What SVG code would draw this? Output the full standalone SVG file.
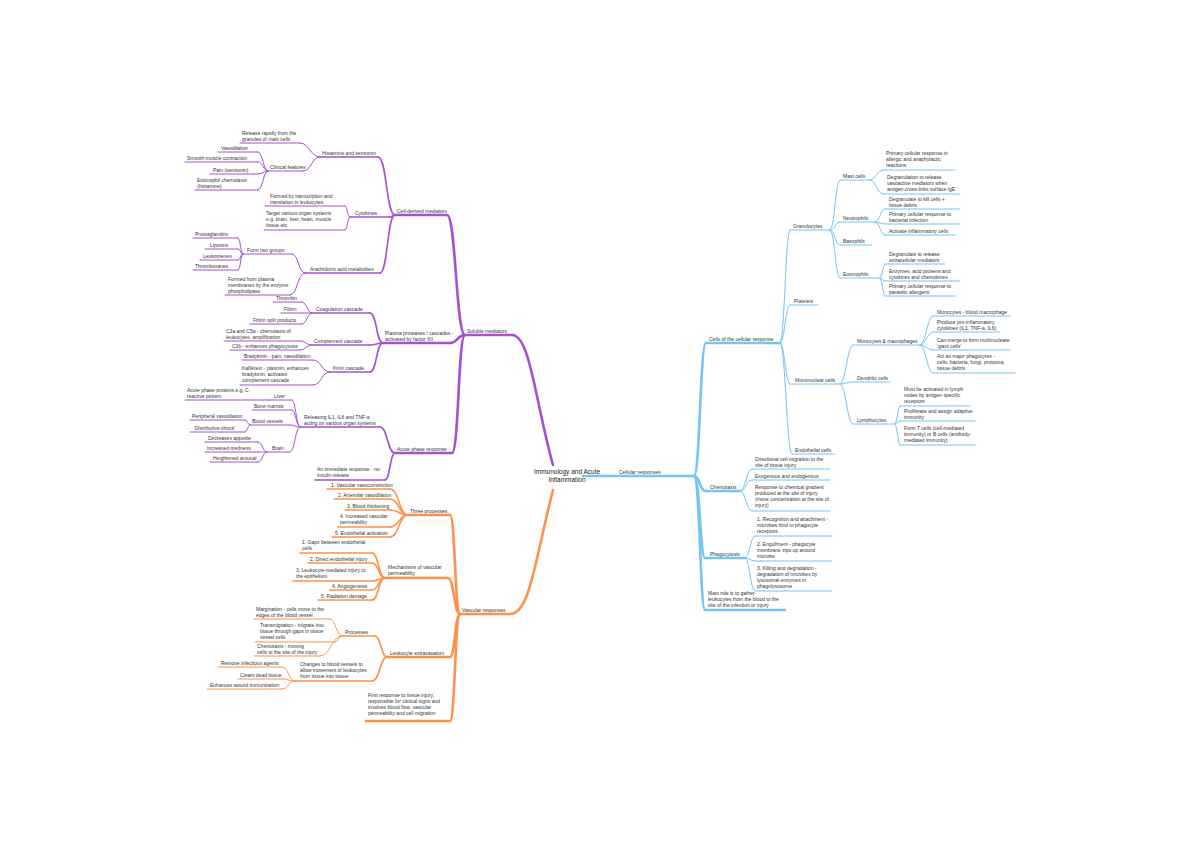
<svg xmlns="http://www.w3.org/2000/svg" width="1200" height="849" viewBox="0 0 1200 849">
<style>
text{font-family:"Liberation Sans","DejaVu Sans",sans-serif;font-size:5px;fill:#333}
.c{text-anchor:middle;font-size:6.5px;fill:#222}
.p{fill:none;stroke:#a64fd0;stroke-linecap:round}
.o{fill:none;stroke:#ff9148;stroke-linecap:round}
.b{fill:none;stroke:#74c4f4;stroke-linecap:round}
.w3{stroke-width:2.6}.w2{stroke-width:1.6}.w1{stroke-width:1}
</style>
<rect width="1200" height="849" fill="#fff"/>
<g id="connectors">
<!-- purple -->
<path class="p w3" d="M553,465 C535,400 530,335 512,335"/>
<path class="p w3" d="M465,335 C456,335 456,215 447,215"/>
<path class="p w3" d="M465,335 C457,335 458,343 450,343"/>
<path class="p w3" d="M465,335 C458,335 459,453 452,453"/>
<path class="p w2" d="M395,215 C386,215 387,157 378,157"/>
<path class="p w2" d="M395,215 C392,215 393,217 390,217"/>
<path class="p w2" d="M395,215 C387,215 388,273 380,273"/>
<path class="p w1" d="M320,157 C310,157 310,143 300,143"/>
<path class="p w1" d="M320,157 C311,157 312,171 303,171"/>
<path class="p w1" d="M268,171 C263,171 263,152 258,152"/>
<path class="p w1" d="M268,171 C263,171 263,162 258,162"/>
<path class="p w1" d="M268,171 C263,171 263,174 258,174"/>
<path class="p w1" d="M268,171 C263,171 263,190 258,190"/>
<path class="p w1" d="M350,217 C347,217 348,206 345,206"/>
<path class="p w1" d="M350,217 C347,217 348,230 345,230"/>
<path class="p w1" d="M305,273 C298,273 299,254 292,254"/>
<path class="p w1" d="M305,273 C297,273 298,295 290,295"/>
<path class="p w1" d="M243,254 C240,254 241,238 238,238"/>
<path class="p w1" d="M243,254 C240,254 241,249 238,249"/>
<path class="p w1" d="M243,254 C240,254 241,260 238,260"/>
<path class="p w1" d="M243,254 C240,254 241,270 238,270"/>
<path class="p w2" d="M383,343 C376,343 377,313 370,313"/>
<path class="p w2" d="M383,343 C376,343 377,345 370,345"/>
<path class="p w2" d="M383,343 C376,343 377,372 370,372"/>
<path class="p w1" d="M312,313 C307,313 307,302 302,302"/>
<path class="p w1" d="M312,313 C307,313 307,313 302,313"/>
<path class="p w1" d="M312,313 C307,313 307,324 302,324"/>
<path class="p w1" d="M312,345 C306,345 306,341 300,341"/>
<path class="p w1" d="M312,345 C306,345 306,350 300,350"/>
<path class="p w1" d="M330,372 C321,372 322,360 313,360"/>
<path class="p w1" d="M330,372 C321,372 322,385 313,385"/>
<path class="p w2" d="M395,453 C387,453 388,427 380,427"/>
<path class="p w2" d="M395,453 C390,453 390,480 385,480"/>
<path class="p w1" d="M300,427 C296,427 296,400 292,400"/>
<path class="p w1" d="M300,427 C296,427 296,410 292,410"/>
<path class="p w1" d="M300,427 C295,427 295,425 290,425"/>
<path class="p w1" d="M300,427 C295,427 295,452 290,452"/>
<path class="p w1" d="M270,400 C269,400 269,400 268,400"/>
<path class="p w1" d="M250,425 C248,425 247,420 245,420"/>
<path class="p w1" d="M250,425 C248,425 247,432 245,432"/>
<path class="p w1" d="M267,452 C262,452 263,442 258,442"/>
<path class="p w1" d="M267,452 C262,452 263,452 258,452"/>
<path class="p w1" d="M267,452 C262,452 263,462 258,462"/>
<!-- orange -->
<path class="o w3" d="M553,490 C535,560 530,614 510,614"/>
<path class="o w3" d="M460,614 C455,614 455,515 450,515"/>
<path class="o w3" d="M460,614 C454,614 454,578 448,578"/>
<path class="o w3" d="M460,614 C455,614 455,657 450,657"/>
<path class="o w3" d="M460,614 C455,614 455,721 450,721"/>
<path class="o w2" d="M408,515 C399,515 399,489 390,489"/>
<path class="o w2" d="M408,515 C399,515 399,499 390,499"/>
<path class="o w2" d="M408,515 C399,515 399,510 390,510"/>
<path class="o w2" d="M408,515 C399,515 399,527 390,527"/>
<path class="o w2" d="M408,515 C399,515 399,537 390,537"/>
<path class="o w2" d="M385,578 C378,578 379,553 372,553"/>
<path class="o w2" d="M385,578 C378,578 379,563 372,563"/>
<path class="o w2" d="M385,578 C378,578 379,581 372,581"/>
<path class="o w2" d="M385,578 C378,578 379,590 372,590"/>
<path class="o w2" d="M385,578 C378,578 379,600 372,600"/>
<path class="o w2" d="M387,657 C381,657 381,636 375,636"/>
<path class="o w2" d="M387,657 C380,657 380,681 372,681"/>
<path class="o w1" d="M342,636 C336,636 336,619 330,619"/>
<path class="o w1" d="M342,636 C338,636 339,642 335,642"/>
<path class="o w1" d="M342,636 C331,636 331,656 320,656"/>
<path class="o w1" d="M295,681 C288,681 289,667 282,667"/>
<path class="o w1" d="M295,681 C288,681 289,679 282,679"/>
<path class="o w1" d="M295,681 C288,681 289,689 282,689"/>
<!-- blue -->
<path class="b w3" d="M583,476 L602,476"/>
<path class="b w3" d="M694,476 C700,476 700,343 706,343"/>
<path class="b w3" d="M694,476 C700,476 700,491 705,491"/>
<path class="b w3" d="M694,476 C700,476 700,558 705,558"/>
<path class="b w3" d="M694,476 C700,476 700,610 705,610"/>
<path class="b w1" d="M780,343 C785,343 785,230 790,230"/>
<path class="b w1" d="M780,343 C785,343 785,305 790,305"/>
<path class="b w1" d="M780,343 C785,343 785,384 790,384"/>
<path class="b w1" d="M780,343 C786,343 786,454 792,454"/>
<path class="b w1" d="M830,230 C835,230 835,180 840,180"/>
<path class="b w1" d="M830,230 C835,230 835,222 840,222"/>
<path class="b w1" d="M830,230 C835,230 835,245 840,245"/>
<path class="b w1" d="M830,230 C835,230 835,278 840,278"/>
<path class="b w1" d="M870,180 C876,180 877,170 883,170"/>
<path class="b w1" d="M870,180 C876,180 877,194 883,194"/>
<path class="b w1" d="M875,222 C880,222 880,209 885,209"/>
<path class="b w1" d="M875,222 C880,222 880,224 885,224"/>
<path class="b w1" d="M875,222 C880,222 880,235 885,235"/>
<path class="b w1" d="M880,278 C882,278 883,264 885,264"/>
<path class="b w1" d="M880,278 C882,278 883,281 885,281"/>
<path class="b w1" d="M880,278 C882,278 883,296 885,296"/>
<path class="b w1" d="M840,384 C846,384 847,345 853,345"/>
<path class="b w1" d="M840,384 C846,384 847,382 853,382"/>
<path class="b w1" d="M840,384 C846,384 847,424 853,424"/>
<path class="b w1" d="M920,345 C926,345 927,316 933,316"/>
<path class="b w1" d="M920,345 C926,345 927,332 933,332"/>
<path class="b w1" d="M920,345 C926,345 927,350 933,350"/>
<path class="b w1" d="M920,345 C926,345 927,373 933,373"/>
<path class="b w1" d="M895,424 C897,424 898,406 900,406"/>
<path class="b w1" d="M895,424 C897,424 898,421 900,421"/>
<path class="b w1" d="M895,424 C897,424 898,445 900,445"/>
<path class="b w1" d="M740,491 C746,491 746,469 752,469"/>
<path class="b w1" d="M740,491 C746,491 746,480 752,480"/>
<path class="b w1" d="M740,491 C746,491 746,511 752,511"/>
<path class="b w1" d="M745,558 C750,558 750,536 755,536"/>
<path class="b w1" d="M745,558 C750,558 750,561 755,561"/>
<path class="b w1" d="M745,558 C750,558 750,591 755,591"/>
</g>
<g id="center"><text class="c" x="567" y="474">Immunology and Acute</text><text class="c" x="567" y="482">Inflammation</text></g>
<g id="soluble"><text x="467" y="333">Soluble mediators</text><path class="p w3" d="M465,335 H512"/></g>
<g id="cellderived"><text x="397" y="213">Cell-derived mediators</text><path class="p w3" d="M395,215 H447"/></g>
<g id="histamine"><text x="322" y="155">Histamine and serotonin</text><path class="p w2" d="M320,157 H378"/></g>
<g id="hist1"><text x="242" y="135">Release rapidly from the</text><text x="242" y="141">granules of mast cells</text><path class="p w1" d="M240,143 H300"/></g>
<g id="clinical"><text x="270" y="169">Clinical features</text><path class="p w1" d="M268,171 H303"/></g>
<g id="vaso"><text x="221" y="150">Vasodilation</text><path class="p w1" d="M218,152 H258"/></g>
<g id="smooth"><text x="187" y="160">Smooth muscle contraction</text><path class="p w1" d="M185,162 H258"/></g>
<g id="pain"><text x="213" y="172">Pain (serotonin)</text><path class="p w1" d="M210,174 H258"/></g>
<g id="eosin"><text x="197" y="182">Eosinophil chemotaxis</text><text x="197" y="188">(histamine)</text><path class="p w1" d="M195,190 H258"/></g>
<g id="cytokines"><text x="355" y="215">Cytokines</text><path class="p w2" d="M350,217 H390"/></g>
<g id="cyt1"><text x="270" y="198">Formed by transcription and</text><text x="270" y="204">translation in leukocytes</text><path class="p w1" d="M265,206 H345"/></g>
<g id="cyt2"><text x="266" y="215">Target various organ systems</text><text x="266" y="221">e.g. brain, liver, heart, muscle</text><text x="266" y="227">tissue etc.</text><path class="p w1" d="M264,230 H345"/></g>
<g id="arach"><text x="310" y="271">Arachidonic acid metabolites</text><path class="p w2" d="M305,273 H380"/></g>
<g id="enzymes"><text x="247" y="252">Form two groups</text><path class="p w1" d="M243,254 H292"/></g>
<g id="prosta"><text x="195" y="236">Prostaglandins</text><path class="p w1" d="M193,238 H238"/></g>
<g id="lipox"><text x="210" y="247">Lipoxins</text><path class="p w1" d="M205,249 H238"/></g>
<g id="leukot"><text x="203" y="258">Leukotrienes</text><path class="p w1" d="M200,260 H238"/></g>
<g id="thrombox"><text x="195" y="268">Thromboxanes</text><path class="p w1" d="M193,270 H238"/></g>
<g id="arach2"><text x="228" y="281">Formed from plasma</text><text x="228" y="287">membranes by the enzyme</text><text x="228" y="293">phospholipase</text><path class="p w1" d="M225,295 H290"/></g>
<g id="plasma"><text x="385" y="335">Plasma proteases / cascades -</text><text x="385" y="341">activated by factor XII</text><path class="p w3" d="M383,343 H450"/></g>
<g id="coag"><text x="316" y="311">Coagulation cascade</text><path class="p w2" d="M312,313 H370"/></g>
<g id="thrombin"><text x="276" y="300">Thrombin</text><path class="p w1" d="M273,302 H302"/></g>
<g id="fibrin"><text x="284" y="311">Fibrin</text><path class="p w1" d="M281,313 H302"/></g>
<g id="fsp"><text x="253" y="322">Fibrin split products</text><path class="p w1" d="M250,324 H302"/></g>
<g id="compl"><text x="314" y="343">Complement cascade</text><path class="p w2" d="M312,345 H370"/></g>
<g id="c3a"><text x="226" y="333">C3a and C5a - chemotaxis of</text><text x="226" y="339">leukocytes, amplification</text><path class="p w1" d="M224,341 H300"/></g>
<g id="c3b"><text x="232" y="348">C3b - enhances phagocytosis</text><path class="p w1" d="M230,350 H300"/></g>
<g id="kinin"><text x="333" y="370">Kinin cascade</text><path class="p w2" d="M330,372 H370"/></g>
<g id="brady"><text x="244" y="358">Bradykinin - pain, vasodilation</text><path class="p w1" d="M242,360 H313"/></g>
<g id="kall"><text x="242" y="370">Kallikrein - plasmin, enhances</text><text x="242" y="376">bradykinin, activates</text><text x="242" y="382">complement cascade</text><path class="p w1" d="M240,385 H313"/></g>
<g id="acute"><text x="397" y="451">Acute phase response</text><path class="p w3" d="M395,453 H452"/></g>
<g id="il"><text x="304" y="419">Releasing IL1, IL6 and TNF-a</text><text x="304" y="425">acting on various organ systems</text><path class="p w2" d="M300,427 H380"/></g>
<g id="liver"><text x="274" y="398">Liver</text><path class="p w1" d="M270,400 H292"/></g>
<g id="crp"><text x="187" y="392">Acute phase proteins e.g. C-</text><text x="187" y="398">reactive protein</text><path class="p w1" d="M185,400 H268"/></g>
<g id="marrow"><text x="254" y="408">Bone marrow</text><path class="p w1" d="M252,410 H292"/></g>
<g id="bv"><text x="252" y="423">Blood vessels</text><path class="p w1" d="M250,425 H290"/></g>
<g id="pv"><text x="192" y="418">Peripheral vasodilation</text><path class="p w1" d="M190,420 H245"/></g>
<g id="shock"><text x="194" y="430">'Distributive shock'</text><path class="p w1" d="M190,432 H245"/></g>
<g id="brain"><text x="272" y="450">Brain</text><path class="p w1" d="M267,452 H290"/></g>
<g id="appetite"><text x="208" y="440">Decreases appetite</text><path class="p w1" d="M205,442 H258"/></g>
<g id="tired"><text x="207" y="450">Increased tiredness</text><path class="p w1" d="M205,452 H258"/></g>
<g id="arousal"><text x="213" y="460">Heightened arousal</text><path class="p w1" d="M210,462 H258"/></g>
<g id="immediate"><text x="317" y="471">An immediate response - no</text><text x="317" y="477">insulin release</text><path class="p w2" d="M315,480 H385"/></g>
<g id="vascular"><text x="462" y="612">Vascular responses</text><path class="o w3" d="M460,614 H510"/></g>
<g id="three"><text x="410" y="513">Three processes</text><path class="o w3" d="M408,515 H450"/></g>
<g id="v1"><text x="331" y="487">1. Vascular vasoconstriction</text><path class="o w2" d="M327,489 H390"/></g>
<g id="v2"><text x="338" y="497">2. Arteriolar vasodilation</text><path class="o w2" d="M334,499 H390"/></g>
<g id="v3"><text x="347" y="508">3. Blood thickening</text><path class="o w2" d="M345,510 H390"/></g>
<g id="v4"><text x="340" y="518">4. Increased vascular</text><text x="340" y="524">permeability</text><path class="o w2" d="M338,527 H390"/></g>
<g id="v5"><text x="335" y="535">5. Endothelial activation</text><path class="o w2" d="M332,537 H390"/></g>
<g id="mech"><text x="388" y="569">Mechanisms of vascular</text><text x="388" y="575">permeability</text><path class="o w3" d="M385,578 H448"/></g>
<g id="m1"><text x="302" y="544">1. Gaps between endothelial</text><text x="302" y="550">cells</text><path class="o w2" d="M300,553 H372"/></g>
<g id="m2"><text x="310" y="561">2. Direct endothelial injury</text><path class="o w2" d="M308,563 H372"/></g>
<g id="m3"><text x="296" y="572">3. Leukocyte-mediated injury to</text><text x="296" y="578">the epithelium</text><path class="o w2" d="M293,581 H372"/></g>
<g id="m4"><text x="332" y="588">4. Angiogenesis</text><path class="o w2" d="M330,590 H372"/></g>
<g id="m5"><text x="321" y="598">5. Radiation damage</text><path class="o w2" d="M318,600 H372"/></g>
<g id="extrav"><text x="390" y="655">Leukocyte extravasation</text><path class="o w3" d="M387,657 H450"/></g>
<g id="processes"><text x="345" y="634">Processes</text><path class="o w2" d="M342,636 H375"/></g>
<g id="margin"><text x="256" y="611">Margination - cells move to the</text><text x="256" y="617">edges of the blood vessel</text><path class="o w1" d="M254,619 H330"/></g>
<g id="transm"><text x="260" y="627">Transmigration - migrate into</text><text x="260" y="633">tissue through gaps in tissue</text><text x="260" y="639">vessel cells</text><path class="o w1" d="M255,642 H335"/></g>
<g id="chemo"><text x="257" y="648">Chemotaxis - moving</text><text x="257" y="654">cells to the site of the injury</text><path class="o w1" d="M254,656 H320"/></g>
<g id="changes"><text x="300" y="666">Changes to blood vessels to</text><text x="300" y="672">allow movement of leukocytes</text><text x="300" y="678">from tissue into tissue</text><path class="o w2" d="M295,681 H372"/></g>
<g id="remove"><text x="221" y="665">Remove infectious agents</text><path class="o w1" d="M218,667 H282"/></g>
<g id="clears"><text x="240" y="677">Clears dead tissue</text><path class="o w1" d="M238,679 H282"/></g>
<g id="enh"><text x="210" y="687">Enhances wound immunization</text><path class="o w1" d="M207,689 H282"/></g>
<g id="first"><text x="368" y="697">First response to tissue injury,</text><text x="368" y="703">responsible for clinical signs and</text><text x="368" y="709">involves blood flow, vascular</text><text x="368" y="715">permeability and cell migration</text><path class="o w3" d="M366,721 H450"/></g>
<g id="cellular"><text x="619" y="474">Cellular responses</text><path class="b w3" d="M602,476 H694"/></g>
<g id="cells"><text x="709" y="341">Cells of the cellular response</text><path class="b w3" d="M706,343 H780"/></g>
<g id="gran"><text x="793" y="228">Granulocytes</text><path class="b w1" d="M790,230 H830"/></g>
<g id="mast"><text x="843" y="178">Mast cells</text><path class="b w1" d="M840,180 H870"/></g>
<g id="mast1"><text x="886" y="155">Primary cellular response in</text><text x="886" y="161">allergic and anaphylactic</text><text x="886" y="167">reactions</text><path class="b w1" d="M883,170 H955"/></g>
<g id="mast2"><text x="887" y="179">Degranulation to release</text><text x="887" y="185">vasoactive mediators when</text><text x="887" y="191">antigen cross-links surface IgE</text><path class="b w1" d="M883,194 H960"/></g>
<g id="neut"><text x="843" y="220">Neutrophils</text><path class="b w1" d="M840,222 H875"/></g>
<g id="neut1"><text x="889" y="201">Degranulate to kill cells +</text><text x="889" y="207">tissue debris</text><path class="b w1" d="M885,209 H960"/></g>
<g id="neut2"><text x="889" y="216">Primary cellular response to</text><text x="889" y="222">bacterial infection</text><path class="b w1" d="M885,224 H960"/></g>
<g id="neut3"><text x="889" y="233">Activate inflammatory cells</text><path class="b w1" d="M885,235 H955"/></g>
<g id="baso"><text x="843" y="243">Basophils</text><path class="b w1" d="M840,245 H872"/></g>
<g id="eos"><text x="843" y="276">Eosinophils</text><path class="b w1" d="M840,278 H880"/></g>
<g id="eos1"><text x="889" y="256">Degranulate to release</text><text x="889" y="262">extracellular mediators</text><path class="b w1" d="M885,264 H945"/></g>
<g id="eos2"><text x="889" y="273">Enzymes, acid proteins and</text><text x="889" y="279">cytokines and chemokines</text><path class="b w1" d="M885,281 H960"/></g>
<g id="eos3"><text x="889" y="288">Primary cellular response to</text><text x="889" y="294">parasitic allergens</text><path class="b w1" d="M885,296 H955"/></g>
<g id="plate"><text x="794" y="303">Platelets</text><path class="b w1" d="M790,305 H818"/></g>
<g id="mono"><text x="795" y="382">Mononuclear cells</text><path class="b w1" d="M790,384 H840"/></g>
<g id="monomac"><text x="857" y="343">Monocytes &amp; macrophages</text><path class="b w1" d="M853,345 H920"/></g>
<g id="mm1"><text x="937" y="314">Monocytes - blood macrophage</text><path class="b w1" d="M933,316 H1010"/></g>
<g id="mm2"><text x="937" y="324">Produce pro-inflammatory</text><text x="937" y="330">cytokines (IL1, TNF-a, IL6)</text><path class="b w1" d="M933,332 H1000"/></g>
<g id="mm3"><text x="937" y="342">Can merge to form multinucleate</text><text x="937" y="348">'giant cells'</text><path class="b w1" d="M933,350 H1010"/></g>
<g id="mm4"><text x="937" y="358">Act as major phagocytes -</text><text x="937" y="364">cells, bacteria, fungi, protozoa,</text><text x="937" y="370">tissue debris</text><path class="b w1" d="M933,373 H1015"/></g>
<g id="dend"><text x="857" y="380">Dendritic cells</text><path class="b w1" d="M853,382 H890"/></g>
<g id="lymph"><text x="857" y="422">Lymphocytes</text><path class="b w1" d="M853,424 H895"/></g>
<g id="ly1"><text x="904" y="391">Must be activated in lymph</text><text x="904" y="397">nodes by antigen specific</text><text x="904" y="403">receptors</text><path class="b w1" d="M900,406 H970"/></g>
<g id="ly2"><text x="904" y="413">Proliferate and assign adaptive</text><text x="904" y="419">immunity</text><path class="b w1" d="M900,421 H975"/></g>
<g id="ly3"><text x="904" y="430">Form T cells (cell-mediated</text><text x="904" y="436">immunity) or B cells (antibody-</text><text x="904" y="442">mediated immunity)</text><path class="b w1" d="M900,445 H975"/></g>
<g id="endo"><text x="795" y="452">Endothelial cells</text><path class="b w1" d="M792,454 H835"/></g>
<g id="chemotaxis"><text x="710" y="489">Chemotaxis</text><path class="b w3" d="M705,491 H740"/></g>
<g id="ch1"><text x="755" y="461">Directional cell migration to the</text><text x="755" y="467">site of tissue injury</text><path class="b w1" d="M752,469 H830"/></g>
<g id="ch2"><text x="755" y="478">Exogenous and endogenous</text><path class="b w1" d="M752,480 H830"/></g>
<g id="ch3"><text x="755" y="489">Response to chemical gradient</text><text x="755" y="495">produced at the site of injury</text><text x="755" y="501">(move concentration at the site of</text><text x="755" y="507">injury)</text><path class="b w1" d="M752,511 H830"/></g>
<g id="phago"><text x="710" y="556">Phagocytosis</text><path class="b w3" d="M705,558 H745"/></g>
<g id="ph1"><text x="757" y="521">1. Recognition and attachment -</text><text x="757" y="527">microbes bind to phagocyte</text><text x="757" y="533">receptors</text><path class="b w1" d="M755,536 H832"/></g>
<g id="ph2"><text x="757" y="546">2. Engulfment - phagocyte</text><text x="757" y="552">membrane zips up around</text><text x="757" y="558">microbe</text><path class="b w1" d="M755,561 H832"/></g>
<g id="ph3"><text x="757" y="570">3. Killing and degradation -</text><text x="757" y="576">degradation of microbes by</text><text x="757" y="582">lysosomal enzymes in</text><text x="757" y="588">phagolysosome</text><path class="b w1" d="M755,591 H832"/></g>
<g id="main"><text x="708" y="595">Main role is to gather</text><text x="708" y="601">leukocytes from the blood to the</text><text x="708" y="607">site of the infection or injury</text><path class="b w3" d="M705,610 H785"/></g>
</svg>
